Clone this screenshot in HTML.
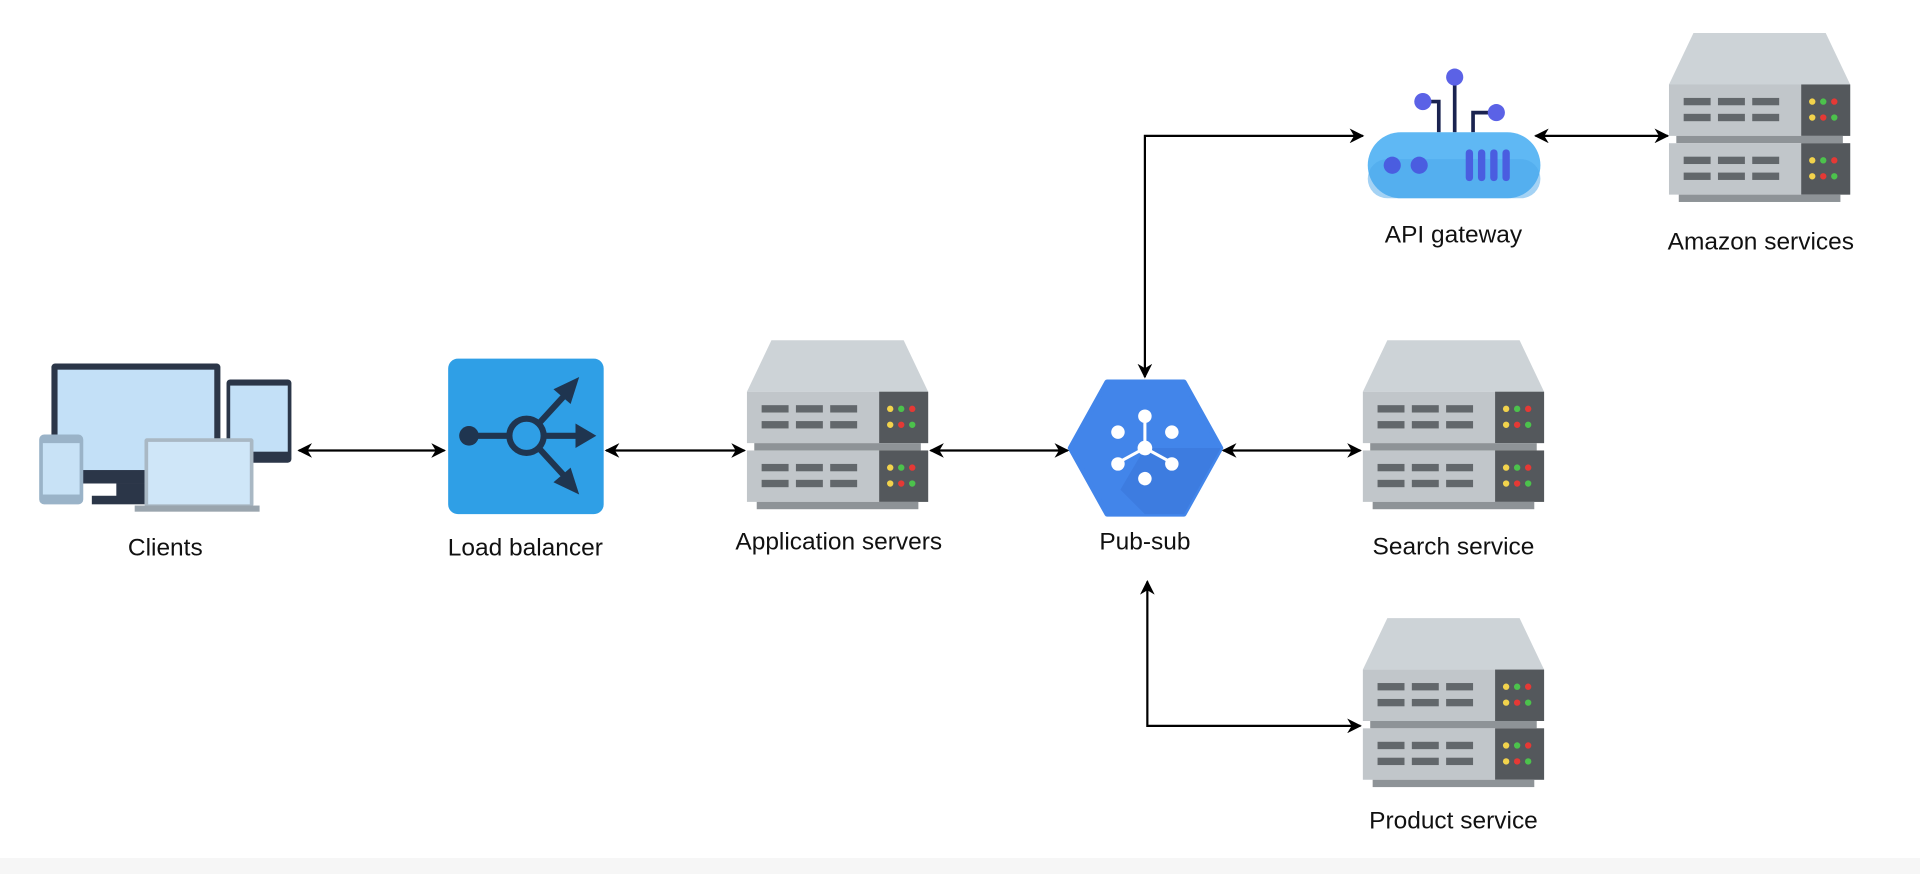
<!DOCTYPE html>
<html><head><meta charset="utf-8"><style>
html,body{margin:0;padding:0;background:#fff;width:1920px;height:874px;overflow:hidden}
svg{display:block}
text{font-family:"Liberation Sans",Arial,sans-serif;font-size:20px;fill:#111;text-anchor:middle}
</style></head><body>
<svg width="1920" height="874" viewBox="0 0 1568 714" preserveAspectRatio="none">
<defs>
<marker id="ah" viewBox="0 0 10 10" refX="9" refY="5" markerWidth="12" markerHeight="12" orient="auto-start-reverse" markerUnits="userSpaceOnUse">
<path d="M0,0 L10,5 L0,10 L3,5 z" fill="#000"/></marker>
<g id="srv">
<polygon points="20,0 128,0 148,42 0,42" fill="#cdd3d7"/>
<rect x="0" y="42" width="148" height="42" fill="#c1c6ca"/>
<rect x="108" y="42" width="40" height="42" fill="#54585c"/>
<g fill="#62676b"><rect x="12" y="53" width="22" height="6"/><rect x="40" y="53" width="22" height="6"/><rect x="68" y="53" width="22" height="6"/>
<rect x="12" y="66" width="22" height="6"/><rect x="40" y="66" width="22" height="6"/><rect x="68" y="66" width="22" height="6"/></g>
<circle cx="117" cy="56" r="2.6" fill="#f2d34c"/><circle cx="126" cy="56" r="2.6" fill="#4cc24c"/><circle cx="135" cy="56" r="2.6" fill="#e53935"/>
<circle cx="117" cy="69" r="2.6" fill="#f2d34c"/><circle cx="126" cy="69" r="2.6" fill="#e53935"/><circle cx="135" cy="69" r="2.6" fill="#4cc24c"/>
<rect x="6" y="84" width="136" height="6" fill="#8e9397"/>
<rect x="0" y="90" width="148" height="42" fill="#c1c6ca"/>
<rect x="108" y="90" width="40" height="42" fill="#54585c"/>
<g fill="#62676b"><rect x="12" y="101" width="22" height="6"/><rect x="40" y="101" width="22" height="6"/><rect x="68" y="101" width="22" height="6"/>
<rect x="12" y="114" width="22" height="6"/><rect x="40" y="114" width="22" height="6"/><rect x="68" y="114" width="22" height="6"/></g>
<circle cx="117" cy="104" r="2.6" fill="#f2d34c"/><circle cx="126" cy="104" r="2.6" fill="#4cc24c"/><circle cx="135" cy="104" r="2.6" fill="#e53935"/>
<circle cx="117" cy="117" r="2.6" fill="#f2d34c"/><circle cx="126" cy="117" r="2.6" fill="#e53935"/><circle cx="135" cy="117" r="2.6" fill="#4cc24c"/>
<rect x="8" y="132" width="132" height="6" fill="#8e9397"/>
</g>
</defs>
<rect x="0" y="701" width="1568" height="13" fill="#f6f6f6"/>

<!-- Clients -->
<rect x="42" y="297" width="138" height="98" rx="3" fill="#2b3648"/>
<rect x="47" y="302" width="128" height="82" fill="#c3e0f7"/>
<rect x="95" y="395" width="30" height="12" fill="#2b3648"/><rect x="75" y="405" width="70" height="7" fill="#2b3648"/>
<rect x="185" y="310" width="53" height="68" rx="3" fill="#2b3648"/><rect x="188" y="315" width="47" height="54" fill="#c3e0f7"/>
<rect x="32" y="355" width="36" height="57" rx="4" fill="#9ab3c8"/><rect x="35" y="362" width="30" height="42" fill="#c8e2f6"/>
<rect x="118" y="358" width="89" height="56" rx="2" fill="#a9b8c4"/><rect x="121" y="361" width="83" height="51" fill="#cfe6f8"/>
<rect x="110" y="413" width="102" height="5" fill="#9aa5ae"/>
<text x="135" y="454">Clients</text>

<!-- Load balancer -->
<rect x="366" y="293" width="127" height="127" rx="8" fill="#2f9fe6"/>
<g stroke="#1f3550" stroke-width="5" fill="none">
<circle cx="430" cy="356" r="14"/>
<line x1="383" y1="356" x2="416" y2="356"/>
<line x1="440" y1="346" x2="462" y2="322"/>
<line x1="444" y1="356" x2="474" y2="356"/>
<line x1="440" y1="366" x2="462" y2="390"/>
</g>
<circle cx="383" cy="356" r="8" fill="#1f3550"/>
<g fill="#1f3550">
<polygon points="473,308 452,318 466,330"/>
<polygon points="487,356 470,346 470,366"/>
<polygon points="473,404 452,394 466,382"/>
</g>
<text x="429" y="454">Load balancer</text>

<!-- servers -->
<use href="#srv" x="610" y="278"/>
<text x="685" y="449">Application servers</text>
<use href="#srv" x="1113" y="278"/>
<text x="1187" y="453">Search service</text>
<use href="#srv" x="1113" y="505"/>
<text x="1187" y="677">Product service</text>
<use href="#srv" x="1363" y="27"/>
<text x="1438" y="204">Amazon services</text>

<!-- Pub-sub -->
<polygon points="904,312 967,312 997,366 967,420 904,420 874,366" fill="#4285ea" stroke="#4285ea" stroke-width="4" stroke-linejoin="round"/>
<polygon points="935,366 997,366 967,420 935,420 915,400" fill="#3a76d8" opacity="0.6"/>
<g stroke="#fff" stroke-width="2.5"><line x1="935" y1="366" x2="935" y2="340"/><line x1="935" y1="366" x2="913" y2="378"/><line x1="935" y1="366" x2="957" y2="378"/></g>
<g fill="#fff"><circle cx="935" cy="366" r="6"/><circle cx="935" cy="340" r="5.5"/><circle cx="913" cy="353" r="5.5"/><circle cx="957" cy="353" r="5.5"/><circle cx="913" cy="379" r="5.5"/><circle cx="957" cy="379" r="5.5"/><circle cx="935" cy="391" r="5.5"/></g>
<text x="935" y="449">Pub-sub</text>

<!-- API gateway -->
<g stroke="#1a2350" stroke-width="3" fill="none">
<line x1="1188" y1="64" x2="1188" y2="108"/>
<polyline points="1162,83 1175,83 1175,108"/>
<polyline points="1222,92 1203,92 1203,108"/>
</g>
<circle cx="1188" cy="63" r="7" fill="#5b62e6"/><circle cx="1162" cy="83" r="7" fill="#5b62e6"/><circle cx="1222" cy="92" r="7" fill="#5b62e6"/>
<rect x="1117" y="108" width="141" height="54" rx="27" fill="#5fb8f4"/>
<rect x="1117" y="130" width="141" height="32" rx="16" fill="#4aa6ea" opacity="0.5"/>
<circle cx="1137" cy="135" r="7" fill="#4a5de0"/><circle cx="1159" cy="135" r="7" fill="#4a5de0"/>
<g fill="#4a5de0"><rect x="1197" y="122" width="6" height="26" rx="3"/><rect x="1207" y="122" width="6" height="26" rx="3"/><rect x="1217" y="122" width="6" height="26" rx="3"/><rect x="1227" y="122" width="6" height="26" rx="3"/></g>
<text x="1187" y="198">API gateway</text>

<!-- connectors -->
<g stroke="#000" stroke-width="1.8" fill="none">
<line x1="244" y1="368" x2="363" y2="368" marker-start="url(#ah)" marker-end="url(#ah)"/>
<line x1="495" y1="368" x2="608" y2="368" marker-start="url(#ah)" marker-end="url(#ah)"/>
<line x1="760" y1="368" x2="872" y2="368" marker-start="url(#ah)" marker-end="url(#ah)"/>
<line x1="999" y1="368" x2="1111" y2="368" marker-start="url(#ah)" marker-end="url(#ah)"/>
<line x1="1254" y1="111" x2="1362" y2="111" marker-start="url(#ah)" marker-end="url(#ah)"/>
<polyline points="935,308 935,111 1113,111" marker-start="url(#ah)" marker-end="url(#ah)"/>
<polyline points="937,475 937,593 1111,593" marker-start="url(#ah)" marker-end="url(#ah)"/>
</g>
</svg>
</body></html>
